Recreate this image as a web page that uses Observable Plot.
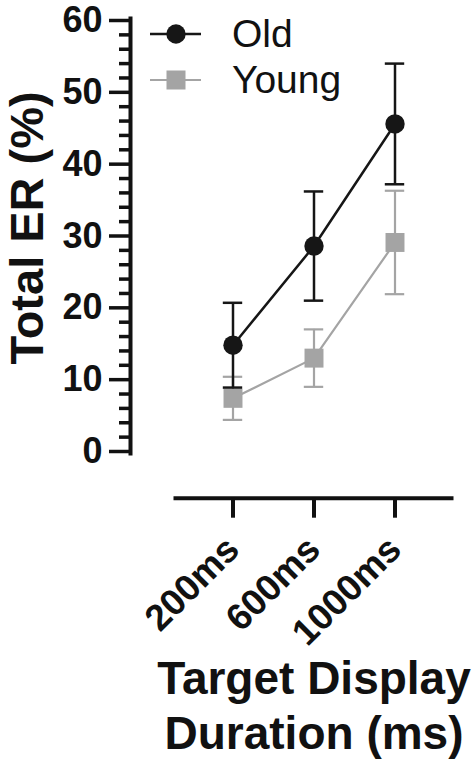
<!DOCTYPE html>
<html>
<head>
<meta charset="utf-8">
<script src="https://cdn.jsdelivr.net/npm/d3@7"></script>
<script src="https://cdn.jsdelivr.net/npm/@observablehq/plot@0.6"></script>
<style>
  html, body { margin: 0; padding: 0; background: #fff; }
  #wrap { position: relative; width: 474px; height: 768px; overflow: hidden; font-family: "Liberation Sans", Arial, Helvetica, sans-serif; }
  #legend { position: absolute; left: 0; top: 0; }
  #xlabel { position: absolute; left: 114px; width: 400px; top: 651px; text-align: center; font-size: 46px; font-weight: bold; line-height: 55px; color: #111; }
</style>
</head>
<body>
<div id="wrap">
  <div id="chart"></div>
  <svg id="legend" width="474" height="110"></svg>
  <div id="xlabel">Target Display<br>Duration (ms)</div>
</div>
<script>
const durations = ["200ms", "600ms", "1000ms"];
const groups = ["Old", "Young"];
const oldMean = [14.8, 28.6, 45.6];
const oldErr = [5.9, 7.6, 8.4];
const youngMean = [7.4, 13.0, 29.1];
const youngErr = [3.0, 4.0, 7.2];
const yTicks = [0, 10, 20, 30, 40, 50, 60];
const yMinorTicks = [2, 4, 6, 8, 12, 14, 16, 18, 22, 24, 26, 28, 32, 34, 36, 38, 42, 44, 46, 48, 52, 54, 56, 58];
const colors = {Old: "#161616", Young: "#a4a4a4"};
const yLabel = "Total ER (%)";

const rows = [];
durations.forEach((d, i) => {
  rows.push({group: "Old", dur: d, mean: oldMean[i], lo: oldMean[i] - oldErr[i], hi: oldMean[i] + oldErr[i]});
  rows.push({group: "Young", dur: d, mean: youngMean[i], lo: youngMean[i] - youngErr[i], hi: youngMean[i] + youngErr[i]});
});
const oldRows = rows.filter(r => r.group === "Old");
const youngRows = rows.filter(r => r.group === "Young");

function seriesMarks(data, color, sw, symbol, r) {
  return [
    Plot.line(data, {x: "dur", y: "mean", stroke: color, strokeWidth: sw}),
    Plot.ruleX(data, {x: "dur", y1: "lo", y2: "hi", stroke: color, strokeWidth: sw}),
    Plot.tickY(data, {x: "dur", y: "lo", stroke: color, strokeWidth: sw, insetLeft: 14.8, insetRight: 14.8}),
    Plot.tickY(data, {x: "dur", y: "hi", stroke: color, strokeWidth: sw, insetLeft: 14.8, insetRight: 14.8}),
    Plot.dot(data, {x: "dur", y: "mean", fill: color, stroke: "none", symbol, r})
  ];
}

const chart = Plot.plot({
  width: 474,
  height: 660,
  marginTop: 20,
  marginLeft: 130,
  marginRight: 23,
  marginBottom: 162.3,
  insetLeft: 45,
  insetBottom: 46.7,
  style: {fontFamily: "'Liberation Sans', Arial, Helvetica, sans-serif", color: "#111", background: "#fff"},
  x: {type: "band", domain: durations, padding: 0.4},
  y: {domain: [0, 60]},
  marks: [
    Plot.frame({anchor: "left", insetTop: -2, insetBottom: 44.7, strokeWidth: 4}),
    Plot.frame({anchor: "bottom", insetLeft: 45, strokeWidth: 4}),
    Plot.axisY(yMinorTicks, {tickSize: 11, strokeWidth: 3.5, tickFormat: () => "", label: null}),
    Plot.axisY(yTicks, {tickSize: 21, strokeWidth: 3.5, tickPadding: 7, fontSize: 36, fontWeight: "bold", label: null}),
    Plot.axisX({tickSize: 20, strokeWidth: 4, tickRotate: -45, tickPadding: 25, fontSize: 37, fontWeight: "bold", label: null}),
    Plot.text([yLabel], {frameAnchor: "left", rotate: -90, textAnchor: "middle", lineAnchor: "bottom", dx: -88, dy: -31.4, fontSize: 47, fontWeight: "bold", fill: "#111"}),
    ...seriesMarks(youngRows, colors.Young, 2.2, "square", 10.7),
    ...seriesMarks(oldRows, colors.Old, 2.5, "circle", 9.7)
  ]
});
document.getElementById("chart").append(chart);

// legend
const lg = d3.select("#legend");
const legendRows = [
  {name: groups[0], cy: 34, symbol: "circle"},
  {name: groups[1], cy: 80, symbol: "square"}
];
legendRows.forEach(r => {
  const c = colors[r.name];
  lg.append("line").attr("x1", 150).attr("x2", 201).attr("y1", r.cy).attr("y2", r.cy)
    .attr("stroke", c).attr("stroke-width", r.symbol === "circle" ? 2.5 : 2.2);
  if (r.symbol === "circle") {
    lg.append("circle").attr("cx", 176).attr("cy", r.cy).attr("r", 9.7).attr("fill", c);
  } else {
    lg.append("rect").attr("x", 176 - 9.5).attr("y", r.cy - 9.5).attr("width", 19).attr("height", 19).attr("fill", c);
  }
  lg.append("text").attr("x", 232).attr("y", r.cy + 13)
    .attr("font-family", "'Liberation Sans', Arial, Helvetica, sans-serif")
    .attr("font-size", 39).attr("fill", "#111").text(r.name);
});
</script>
</body>
</html>
